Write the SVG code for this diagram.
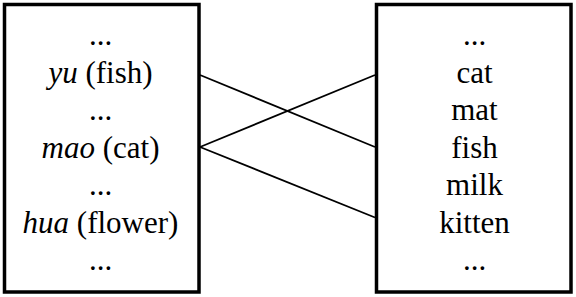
<svg xmlns="http://www.w3.org/2000/svg" width="576" height="297" viewBox="0 0 576 297">
<style>
.box{fill:#fff;stroke:#000;stroke-width:3.5}
.t{font-family:'Liberation Serif','Times New Roman',serif;font-size:31px;fill:#000;text-anchor:middle}
.i{font-style:italic}
.c{stroke:#000;stroke-width:1.8;fill:none}
</style>
<rect width="576" height="297" fill="#fff"/>
<g id="left">
<rect class="box" x="4.5" y="4.5" width="194.5" height="287.5"/>
<text class="t" x="100.5" y="45">...</text>
<text class="t" x="100.5" y="82.5"><tspan class="i">yu</tspan> (fish)</text>
<text class="t" x="100.5" y="120">...</text>
<text class="t" x="100.5" y="157.5"><tspan class="i">mao</tspan> (cat)</text>
<text class="t" x="100.5" y="195">...</text>
<text class="t" x="100.5" y="232.5"><tspan class="i">hua</tspan> (flower)</text>
<text class="t" x="100.5" y="270">...</text>
</g>
<g id="right">
<rect class="box" x="376.5" y="4.5" width="194.5" height="287.5"/>
<text class="t" x="474.5" y="45">...</text>
<text class="t" x="474.5" y="82.5">cat</text>
<text class="t" x="474.5" y="120">mat</text>
<text class="t" x="474.5" y="157.5">fish</text>
<text class="t" x="474.5" y="195">milk</text>
<text class="t" x="474.5" y="232.5">kitten</text>
<text class="t" x="474.5" y="270">...</text>
</g>
<g id="connectors">
<line class="c" x1="200" y1="75" x2="375" y2="147"/>
<line class="c" x1="200" y1="147" x2="375" y2="75"/>
<line class="c" x1="200" y1="147" x2="375" y2="217.5"/>
</g>
</svg>
